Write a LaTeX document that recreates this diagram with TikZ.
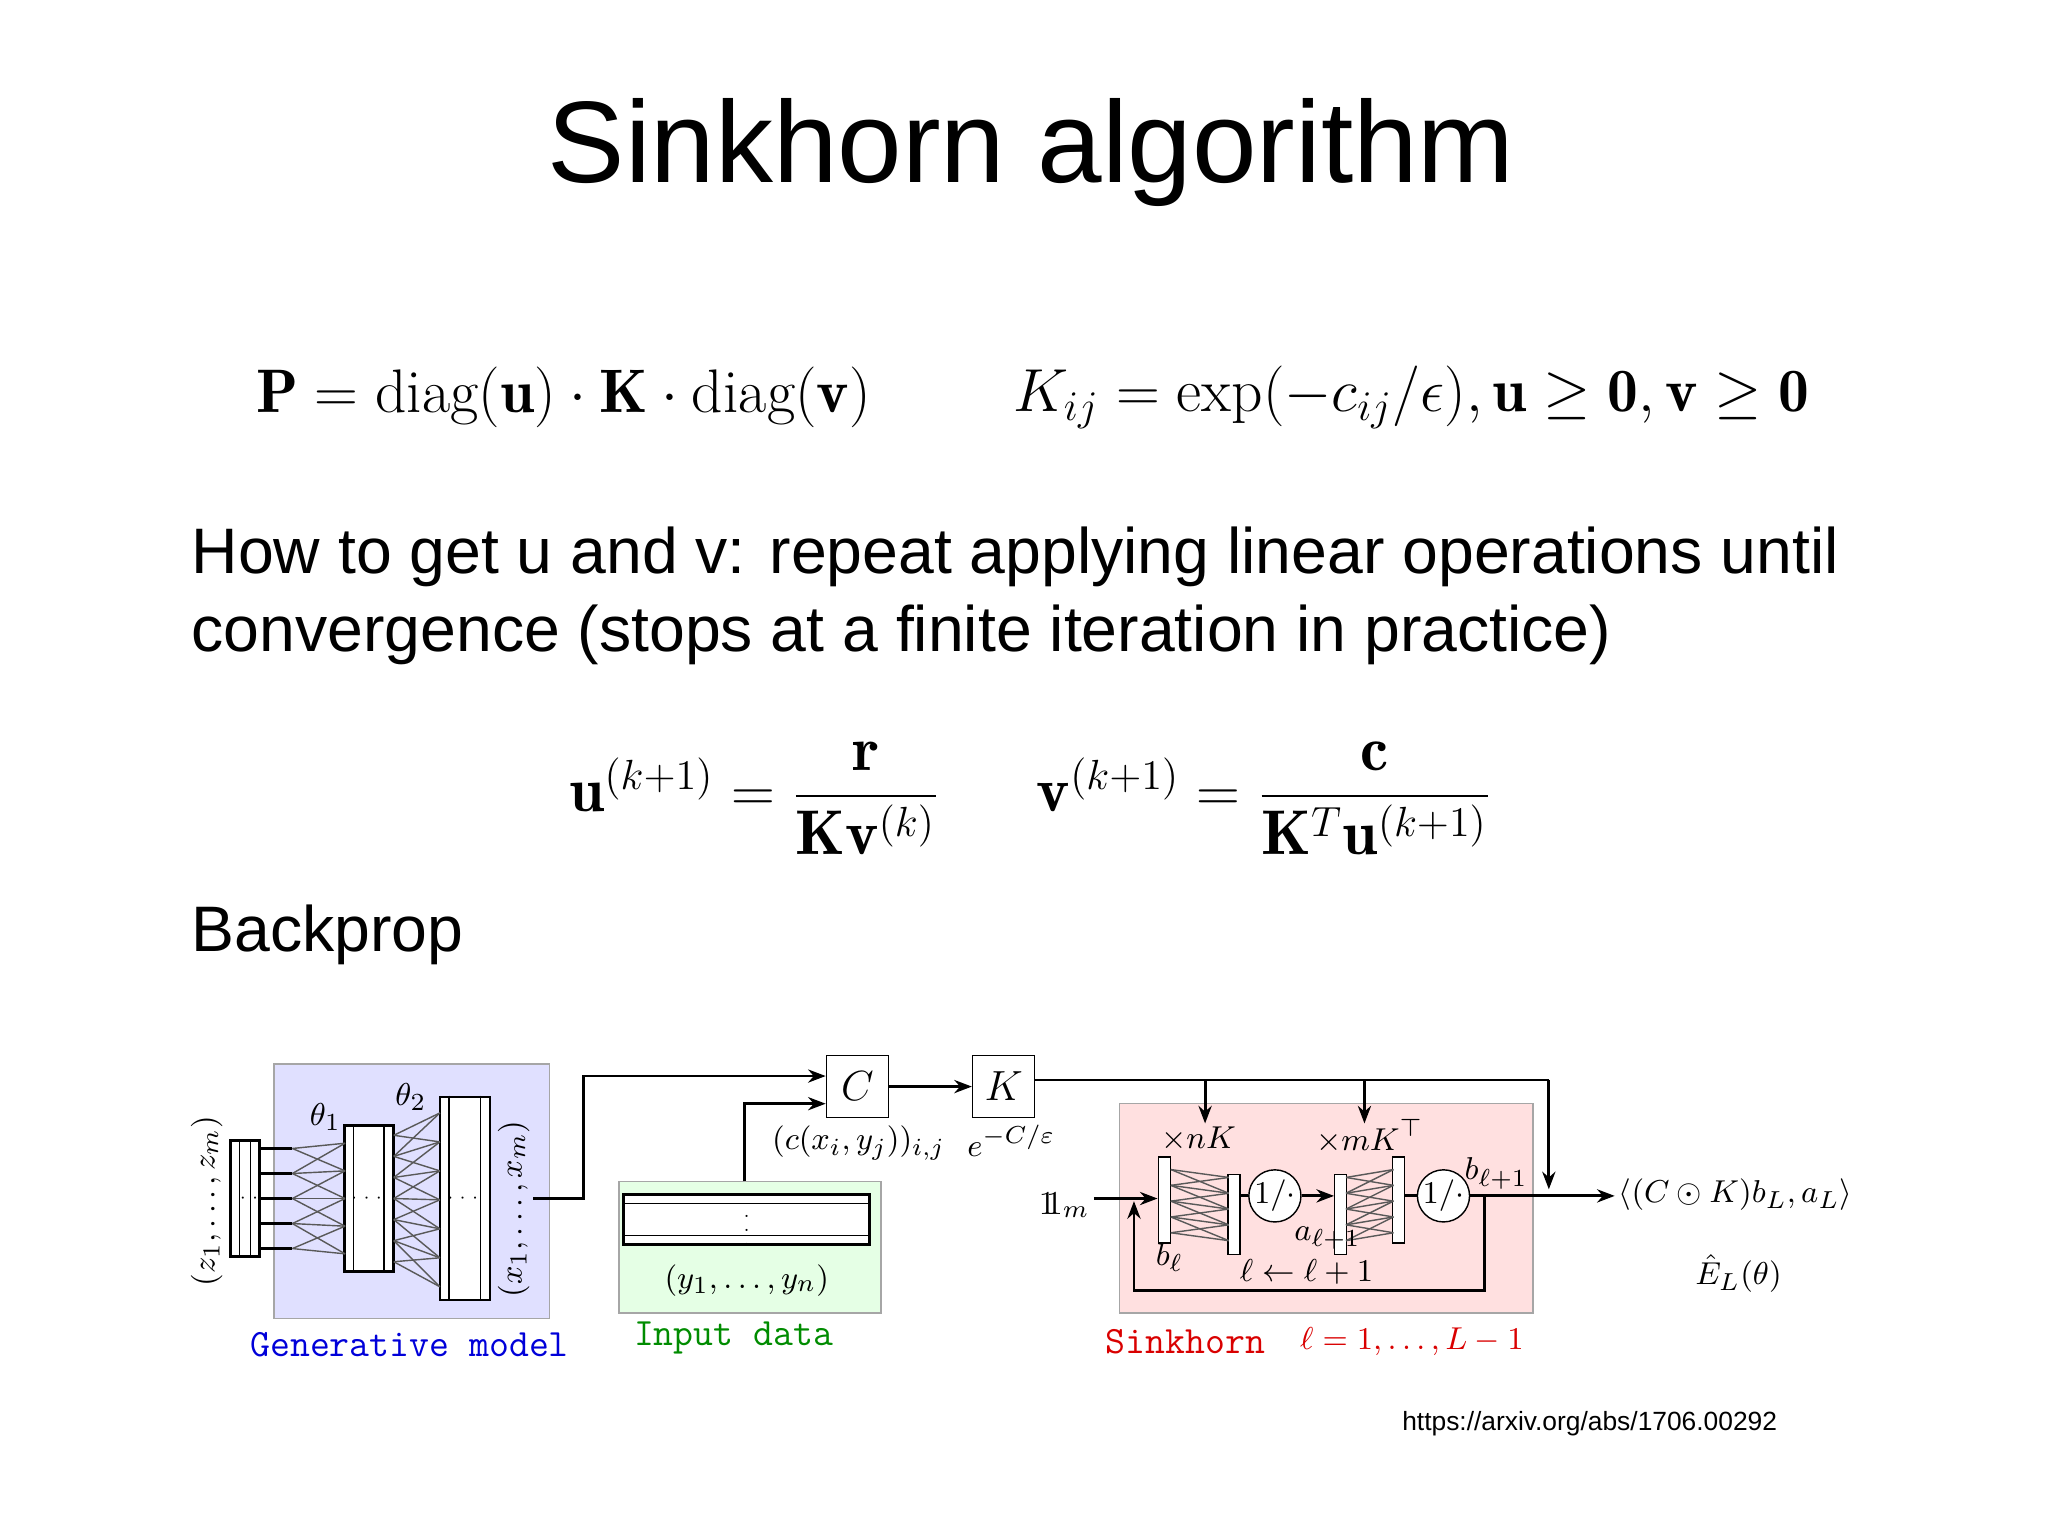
\documentclass[tikz,border=0pt]{standalone}
\usepackage{amsmath,amssymb}
\usepackage{fontspec}
\newfontfamily\slidefont{Liberation Sans}
\usetikzlibrary{positioning,arrows.meta}
\newcommand{\onevec}{\mathrm{1\kern-0.28em 1}}

\tikzset{
  slidetext/.style={font=\slidefont\fontsize{18.3}{26}\selectfont, anchor=west, inner sep=0pt},
  layer/.style={draw, thick, fill=white, inner sep=0pt},
  opbox/.style={draw, fill=white, minimum size=0.62cm, inner sep=0pt, font=\fontsize{13}{15}\selectfont},
  invnode/.style={draw, circle, fill=white, minimum size=0.37cm, inner sep=0pt, font=\fontsize{9.5}{11}\selectfont},
  lbl/.style={font=\fontsize{9.5}{11}\selectfont, inner sep=1pt},
  ttlbl/.style={font=\ttfamily\fontsize{11}{13}\selectfont},
  wire/.style={thick, -{Stealth[length=5pt]}},
  fan/.style={gray!70!black, thin},
}

\begin{document}
\begin{tikzpicture}[x=0.01317cm, y=-0.01317cm]
\useasboundingbox (0,0) rectangle (1555,1166);

% title and formulas
\node[font=\slidefont\fontsize{33}{36}\selectfont] (title) at (783,116) {Sinkhorn algorithm};
\node[font=\fontsize{17.5}{21}\selectfont, anchor=west] (pdef) at (185,302)
  {$\mathbf{P}=\operatorname{diag}(\mathbf{u})\cdot\mathbf{K}\cdot\operatorname{diag}(\mathbf{v})$};
\node[font=\fontsize{17.5}{21}\selectfont, anchor=west] (kdef) at (760,302)
  {$K_{ij}=\exp(-c_{ij}/\epsilon),\mathbf{u}\geq\mathbf{0},\mathbf{v}\geq\mathbf{0}$};
\node[slidetext] (how1) at (145,423) {How to get u and v: repeat applying linear operations until};
\node[slidetext] (how2) at (145,482) {convergence (stops at a finite iteration in practice)};
\node[font=\fontsize{18}{21}\selectfont] (uupd) at (573,606)
  {$\mathbf{u}^{(k+1)}=\dfrac{\mathbf{r}}{\mathbf{K}\mathbf{v}^{(k)}}$};
\node[font=\fontsize{18}{21}\selectfont] (vupd) at (960,606)
  {$\mathbf{v}^{(k+1)}=\dfrac{\mathbf{c}}{\mathbf{K}^{T}\mathbf{u}^{(k+1)}}$};
\node[slidetext] (backprop) at (145,710) {Backprop};
\node[font=\slidefont\fontsize{7.5}{10}\selectfont] (link) at (1207,1081) {https://arxiv.org/abs/1706.00292};

% background panels
\draw[gray!70, fill=blue!12] (208,808) rectangle (417,1001);
\draw[gray!70, fill=green!10] (470,897) rectangle (669,997);
\draw[gray!70, fill=red!12] (850,838) rectangle (1164,997);

% generative model
\node[layer, minimum width=0.29cm, minimum height=1.16cm] (zl) at (186,910) {};
\node[layer, minimum width=0.49cm, minimum height=1.46cm] (hl) at (280,910) {};
\node[layer, minimum width=0.50cm, minimum height=2.03cm] (xl) at (353,910) {};
\foreach \n in {zl,hl,xl}{
  \draw ([xshift=3pt]\n.north west) -- ([xshift=3pt]\n.south west);
  \draw ([xshift=-3pt]\n.north east) -- ([xshift=-3pt]\n.south east);
  \node[font=\tiny] at (\n) {$\cdots$};
}
\foreach \i in {0,...,4}{
  \draw[thick] (197,{872+\i*19}) -- (222,{872+\i*19});
  \foreach \j in {0,...,4}{
    \pgfmathtruncatemacro{\d}{abs(\i-\j)}
    \ifnum\d<2 \draw[fan] (222,{872+\i*19}) -- (262,{868+\j*21}); \fi
  }
}
\foreach \i in {0,...,6}{
  \foreach \j in {0,...,6}{
    \pgfmathtruncatemacro{\d}{abs(\i-\j)}
    \ifnum\d<2 \draw[fan] (299,{862+\i*16}) -- (334,{845+\j*22}); \fi
  }
}
\node[lbl, rotate=90] (zlab) at (157,912) {$(z_1,\ldots,z_m)$};
\node[lbl, rotate=90] (xlab) at (390,918) {$(x_1,\ldots,x_m)$};
\node[lbl] (th1) at (247,848) {$\theta_1$};
\node[lbl] (th2) at (312,833) {$\theta_2$};
\node[ttlbl, text=blue!85!black] (genlab) at (311,1021) {Generative model};
\coordinate (gout) at (405,910);

% input data
\node[layer, minimum width=2.46cm, minimum height=0.5cm] (ydata) at (567,926) {};
\draw ([yshift=-3pt]ydata.north west) -- ([yshift=-3pt]ydata.north east);
\draw ([yshift=3pt]ydata.south west) -- ([yshift=3pt]ydata.south east);
\node[font=\tiny] at (ydata) {$\vdots$};
\node[lbl] (ylab) at (567,972) {$(y_1,\ldots,y_n)$};
\node[ttlbl, text=green!55!black] (inlab) at (557,1016) {Input data};
\coordinate (yout) at (565,897);

% cost and kernel
\node[opbox] (C) at (651,825) {$C$};
\node[opbox] (K) at (762,825) {$K$};
\node[lbl] (clab) at (652,868) {$(c(x_i,y_j))_{i,j}$};
\node[lbl] (klab) at (768,866) {$e^{-C/\varepsilon}$};
\draw[wire] (gout) -| (443,817) -- (C.west |- 0,817);
\draw[wire] (yout) |- (C.west |- 0,838);
\draw[wire] (C) -- (K);

% sinkhorn loop
\node[layer, thin, minimum width=0.12cm, minimum height=0.86cm] (bl) at (884,911) {};
\node[layer, thin, minimum width=0.12cm, minimum height=0.80cm] (kb) at (937,922) {};
\node[invnode] (inv1) at (968,908) {$1/\cdot$};
\node[layer, thin, minimum width=0.12cm, minimum height=0.80cm] (al) at (1018,922) {};
\node[layer, thin, minimum width=0.12cm, minimum height=0.86cm] (ka) at (1062,911) {};
\node[invnode] (inv2) at (1096,908) {$1/\cdot$};
\foreach \i in {0,...,4}{
  \foreach \j in {0,...,4}{
    \pgfmathtruncatemacro{\d}{abs(\i-\j)}
    \ifnum\d<2
      \draw[fan] (889,{888+\i*12}) -- (933,{894+\j*12});
      \draw[fan] (1022,{894+\i*12}) -- (1058,{888+\j*12});
    \fi
  }
}
\node[lbl] (onem) at (808,915) {$\onevec_m$};
\node[lbl] (nK) at (910,865) {$\times nK$};
\node[lbl] (mK) at (1040,863) {$\times mK^{\top}$};
\node[lbl] (blab) at (888,955) {$b_\ell$};
\node[lbl] (alab) at (1008,940) {$a_{\ell+1}$};
\node[lbl] (bnlab) at (1136,891) {$b_{\ell+1}$};
\node[lbl] (iterlab) at (992,966) {$\ell\leftarrow\ell+1$};
\node[lbl, anchor=west] (res) at (1226,907) {$\langle (C\odot K)b_L, a_L\rangle$};
\node[lbl] (elab) at (1320,967) {$\hat{E}_L(\theta)$};
\node[ttlbl, text=red!85!black] (sklab) at (900,1019) {Sinkhorn};
\node[lbl, text=red!85!black] (rng) at (1072,1019) {$\ell=1,\ldots,L-1$};

\draw[wire] (onem.east |- 0,910) -- (bl.west |- 0,910);
\draw[thick] (kb.east |- inv1) -- (inv1);
\draw[wire] (inv1) -- (al.west |- inv1);
\draw[thick] (ka.east |- inv2) -- (inv2);
\draw[wire] (inv2) -- (res.west |- inv2);
\draw[wire] (1127,908) |- (861,980) -- (861,912);
\draw[thick] (K.east |- 0,820) -- (1176,820);
\draw[wire] (1176,820) -- (1176,903);
\draw[wire] (915,820) -- (915,853);
\draw[wire] (1036,820) -- (1036,853);
\end{tikzpicture}
\end{document}
